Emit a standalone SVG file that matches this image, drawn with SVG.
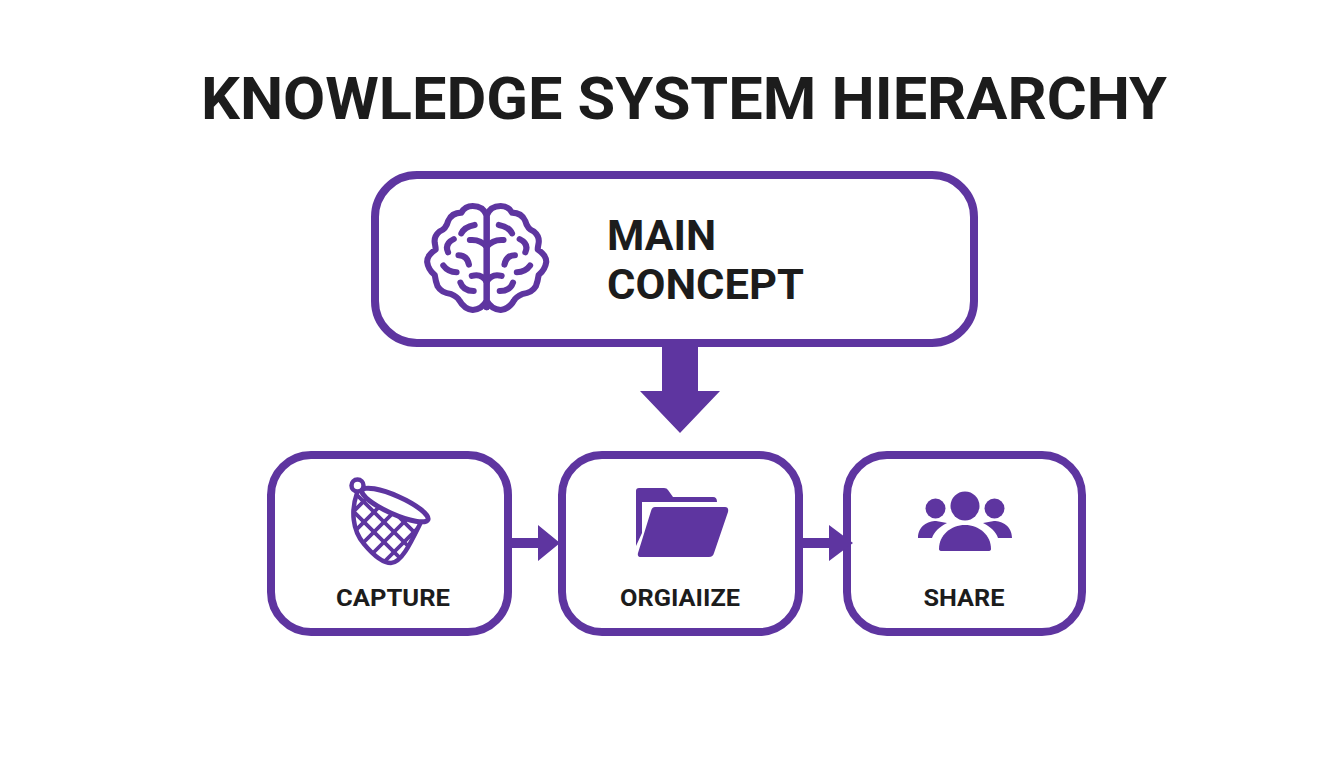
<svg xmlns="http://www.w3.org/2000/svg" width="1344" height="768" viewBox="0 0 1344 768">
<style>
.box{fill:#fff;stroke:#5e35a0;stroke-width:8}
.fill{fill:#5e35a0}
.line{fill:none;stroke:#5e35a0;stroke-linecap:round;stroke-linejoin:round}
text{font-family:Roboto,"Liberation Sans",sans-serif;font-weight:700;fill:#1c1c1c}
.lab{font-size:24px;text-anchor:middle}
</style>
<defs>
<g id="brain-half">
<path d="M486.700 310V213Q483 203 472 203Q464 203 460 210Q450 210 446 219Q444 227 437 230Q431 235 432 242Q433 247 433 249Q424 255 424 262Q425 270 432 276Q433 283 435 288Q439 295 449 296Q456 299 458 303Q463 312 472 313Q482 312 486.700 303"/>
<path d="M460 232Q463 225 474 223"/>
<path d="M469 239Q480 238 486.700 246"/>
<path d="M452 238Q442 243 446 252"/>
<path d="M457 255Q466 255 468 265"/>
<path d="M441 266Q446 273 455 273"/>
<path d="M471 277Q481 274 486.700 283"/>
<path d="M459 284Q462 293 473 293"/>
</g>
<clipPath id="bag"><path d="M357 493C351 510 352 530 364 544C374 556 384 563 391 563C402 563 412 540 422 520L392 500Z"/></clipPath>
</defs>
<rect width="1344" height="768" fill="#fff"/>
<text x="684" y="119" font-size="60" text-anchor="middle" textLength="966" lengthAdjust="spacingAndGlyphs">KNOWLEDGE SYSTEM HIERARCHY</text>
<g id="main-concept">
<rect class="box" x="375" y="175" width="599" height="168" rx="42"/>
<g class="line" stroke-width="6.400" transform="translate(486.700 258) scale(.95 .945) translate(-486.700 -258)">
<use href="#brain-half"/>
<use href="#brain-half" transform="matrix(-1 0 0 1 973.400 0)"/>
</g>
<text x="607" y="250" font-size="42" textLength="109" lengthAdjust="spacingAndGlyphs">MAIN</text>
<text x="607" y="299" font-size="42" textLength="197" lengthAdjust="spacingAndGlyphs">CONCEPT</text>
</g>
<g id="capture">
<rect class="box" x="271" y="455" width="237" height="177" rx="40"/>
<g class="line">
<g clip-path="url(#bag)" stroke-width="3.800">
<path d="M340 478L420 558M340 458L430 548M352 450L440 538M330 488L410 568"/>
<path d="M345 520L395 470M345 541L410 476M352 554L420 486M368 558L430 496M384 562L445 501"/>
</g>
<path stroke-width="4.500" d="M357 493C351 510 352 530 364 544C374 556 384 563 391 563C402 563 412 540 422 520"/>
<circle cx="357.500" cy="485.500" r="6" stroke-width="4.500"/>
<ellipse cx="395" cy="505" rx="36" ry="9" transform="rotate(24 395 505)" stroke-width="5" fill="#fff"/>
</g>
<text class="lab" x="393" y="606" textLength="114" lengthAdjust="spacingAndGlyphs">CAPTURE</text>
</g>
<g id="organize">
<rect class="box" x="562" y="455" width="237" height="177" rx="40"/>
<path class="fill" d="M636 491Q636 488 639 488H664Q667 488 668 490L673 497H713Q717 497 717 502H642V533L636 546Z"/>
<path class="fill" d="M655 507H725Q729 507 728 512L714 553Q713 557 709 557H641Q637 557 638 553L651 511Q652 507 655 507Z"/>
<text class="lab" x="680" y="606" textLength="120" lengthAdjust="spacingAndGlyphs">ORGIAIIZE</text>
</g>
<g id="share">
<rect class="box" x="847" y="455" width="235" height="177" rx="40"/>
<circle class="fill" cx="935.500" cy="508.500" r="10"/>
<circle class="fill" cx="994.500" cy="508.500" r="10"/>
<circle class="fill" cx="965" cy="506" r="14.500"/>
<path class="fill" d="M918 538C918 526 928 521 936 521L947 523C939 527 934 532 932 538Z"/>
<path class="fill" d="M1012 538C1012 526 1002 521 994 521L983 523C991 527 996 532 998 538Z"/>
<path class="fill" d="M939 549C939 535 951 525 965 525C979 525 991 535 991 549Q991 551 988 551H942Q939 551 939 549Z"/>
<text class="lab" x="964" y="606" textLength="81" lengthAdjust="spacingAndGlyphs">SHARE</text>
</g>
<g id="connectors">
<path class="fill" d="M662 346H698V391H720L680 433L640 391H662Z"/>
<path class="fill" d="M510 538H538V525L560 543L538 561V548H510Z"/>
<path class="fill" d="M800 538H829V525L853 543L829 561V548H800Z"/>
</g>
</svg>
